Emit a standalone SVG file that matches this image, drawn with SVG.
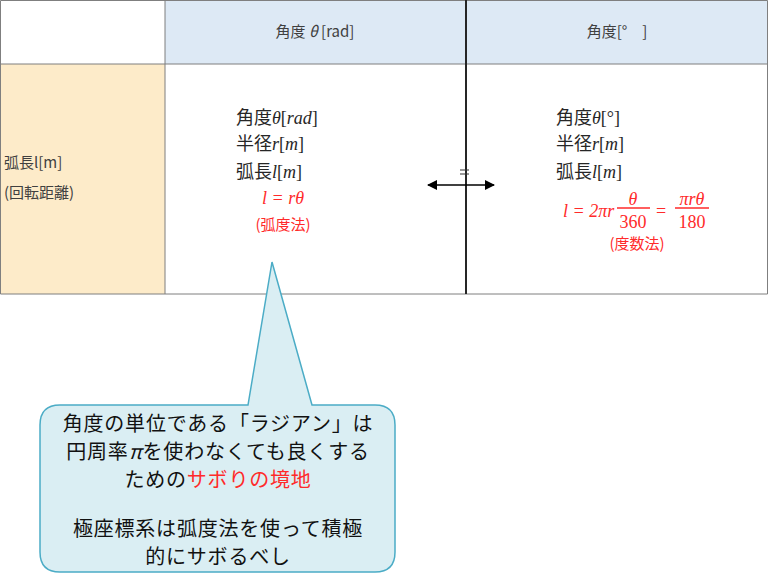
<svg xmlns="http://www.w3.org/2000/svg" width="768" height="586" viewBox="0 0 768 586">
<defs>
<style>
.t{font-family:"Noto Sans CJK JP","Liberation Sans",sans-serif;font-size:15px;fill:#404040}
.m{font-family:"Liberation Serif","Noto Sans CJK JP",serif;font-size:18px;fill:#262626}
.r{fill:#ff2a2a}
.c{font-family:"Noto Sans CJK JP","Liberation Sans",sans-serif;font-size:20px;fill:#111;letter-spacing:0.8px}
.g{stroke:#7f7f7f;stroke-width:1;fill:none}
</style>
<marker id="ah" viewBox="0 0 10 10" refX="9" refY="5" markerWidth="10" markerHeight="10" markerUnits="userSpaceOnUse" orient="auto-start-reverse"><path d="M0,0L10,5L0,10z" fill="#000"/></marker>
</defs>
<rect width="768" height="586" fill="#fff"/>
<g id="table">
<rect x="165" y="0" width="603" height="64" fill="#dde9f5"/>
<rect x="0" y="64" width="165" height="230" fill="#fdebc9"/>
<path class="g" d="M0.5,0.5H767.5V294H0.5Z M0,64H768 M165,0V294"/>
<path d="M466,0V294" stroke="#262626" stroke-width="2"/>
<text class="t" x="315" y="37" text-anchor="middle">角度 <tspan font-style="italic">θ</tspan> [rad]</text>
<text class="t" x="617" y="37" text-anchor="middle">角度[°　]</text>
<text class="t" x="4" y="168">弧長l[m]</text>
<text class="t" x="4" y="198">(回転距離)</text>
</g>
<g id="left">
<text class="m" x="236" y="124">角度<tspan font-style="italic">θ</tspan>[<tspan font-style="italic">rad</tspan>]</text>
<text class="m" x="236" y="150">半径<tspan font-style="italic">r</tspan>[<tspan font-style="italic">m</tspan>]</text>
<text class="m" x="236" y="178">弧長<tspan font-style="italic">l</tspan>[<tspan font-style="italic">m</tspan>]</text>
<text class="m r" x="283" y="204" text-anchor="middle" font-style="italic">l = rθ</text>
<text class="t r" x="283" y="230" text-anchor="middle">(弧度法)</text>
</g>
<g id="right">
<text class="m" x="556" y="124">角度<tspan font-style="italic">θ</tspan>[°]</text>
<text class="m" x="556" y="150">半径<tspan font-style="italic">r</tspan>[<tspan font-style="italic">m</tspan>]</text>
<text class="m" x="556" y="178">弧長<tspan font-style="italic">l</tspan>[<tspan font-style="italic">m</tspan>]</text>
<text class="m r" x="563" y="217" font-style="italic">l = 2πr</text>
<text class="m r" x="633" y="205" text-anchor="middle" font-style="italic">θ</text>
<line x1="617" y1="208" x2="650" y2="208" stroke="#ff2a2a" stroke-width="1.3"/>
<text class="m r" x="633" y="228" text-anchor="middle">360</text>
<text class="m r" x="661" y="217" text-anchor="middle">=</text>
<text class="m r" x="692" y="205" text-anchor="middle" font-style="italic">πrθ</text>
<line x1="675" y1="208" x2="709" y2="208" stroke="#ff2a2a" stroke-width="1.3"/>
<text class="m r" x="692" y="228" text-anchor="middle">180</text>
<text class="t r" x="637" y="249" text-anchor="middle">(度数法)</text>
</g>
<g id="connectors">
<line x1="428" y1="185" x2="494" y2="185" stroke="#000" stroke-width="1.3" marker-start="url(#ah)" marker-end="url(#ah)"/>
<path d="M460,170H469M460,174H469" stroke="#333" stroke-width="1.2"/>
</g>
<g id="callout">
<path d="M60,405H248L272,262L312,405H375Q395,405 395,425V552Q395,572 375,572H60Q40,572 40,552V425Q40,405 60,405Z" fill="#daeef3" stroke="#4bacc6" stroke-width="1.5"/>
<text class="c" x="218" y="431" text-anchor="middle">角度の単位である「ラジアン」は</text>
<text class="c" x="218" y="459" text-anchor="middle">円周率<tspan font-style="italic">π</tspan>を使わなくても良くする</text>
<text class="c" x="218" y="487" text-anchor="middle">ための<tspan fill="#ff2a2a">サボりの境地</tspan></text>
<text class="c" x="218" y="536" text-anchor="middle">極座標系は弧度法を使って積極</text>
<text class="c" x="218" y="564" text-anchor="middle">的にサボるべし</text>
</g>
</svg>
